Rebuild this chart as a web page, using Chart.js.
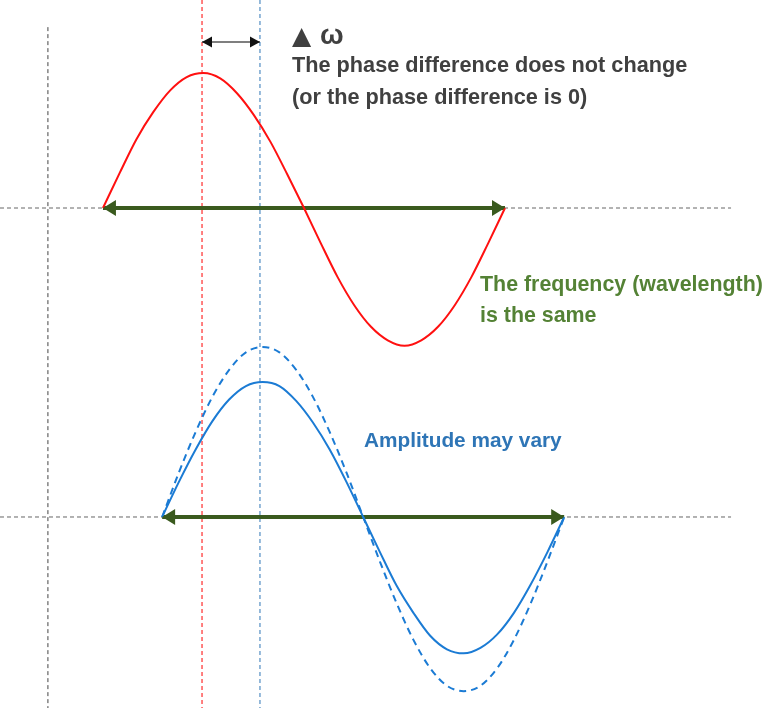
<!DOCTYPE html>
<html><head><meta charset="utf-8">
<script src="https://cdn.jsdelivr.net/npm/chart.js@4.4.1/dist/chart.umd.min.js"></script>
<style>html,body{margin:0;padding:0;background:#fff}#wrap{width:768px;height:708px;position:relative}</style>
</head><body><div id="wrap"><canvas id="c" width="768" height="708"></canvas></div>
<script>
// Phase axis in degrees (the red wave starts at 0°); values in amplitude units.
const redPhase   = [0, 15, 30, 45, 60, 75, 90, 105, 120, 135, 150, 165, 180,
                    195, 210, 225, 240, 255, 270, 285, 300, 315, 330, 345, 360];
const redValues  = [0, 0.26, 0.51, 0.71, 0.87, 0.97, 1.0, 0.96, 0.85, 0.69, 0.49, 0.25, 0,
                    -0.26, -0.51, -0.72, -0.88, -0.98, -1.02, -0.98, -0.88, -0.72, -0.51, -0.26, 0];
const bluePhase  = [53, 68, 83, 98, 113, 128, 143, 158, 173, 188, 203, 218, 233,
                    248, 263, 278, 293, 308, 323, 338, 353, 368, 383, 398, 413];
const blueSolid  = [0, 0.26, 0.50, 0.71, 0.87, 0.97, 1.0, 0.97, 0.86, 0.70, 0.50, 0.26, 0,
                    -0.26, -0.51, -0.71, -0.88, -0.98, -1.01, -0.97, -0.87, -0.71, -0.50, -0.26, 0];
const blueDashed = [0, 0.33, 0.63, 0.89, 1.09, 1.22, 1.26, 1.22, 1.09, 0.89, 0.63, 0.33, 0,
                    -0.33, -0.64, -0.91, -1.12, -1.25, -1.29, -1.25, -1.12, -0.91, -0.64, -0.33, 0];
// Guide lines (phase positions)
const guidePhase = {black: -49.3, red: 88.7, blue: 140.6};
const baselineRange = [-92.2, 562.4];
const redSpan  = [0, 360];
const blueSpan = [53, 413];
const deltaOmegaSpan = [88.7, 140.6];
const deltaOmegaLevel = 1.23;
// Axis ranges
const X_MIN = -92.2, X_MAX = 595.5;
const TOP_MIN = -3.704, TOP_MAX = 1.541;
const BOT_MIN = -1.415, BOT_MAX = 3.830;

const texts = {
  triangle: '▲',
  omega: 'ω',
  phase1: 'The phase difference does not change',
  phase2: '(or the phase difference is 0)',
  freq1: 'The frequency (wavelength)',
  freq2: 'is the same',
  amp: 'Amplitude may vary'
};

const pts = (xs, ys) => xs.map((x, i) => ({x, y: ys[i]}));

const arrowPlugin = {
  id: 'arrowHeads',
  afterDatasetsDraw(chart) {
    const ctx = chart.ctx;
    chart.data.datasets.forEach((ds, i) => {
      if (!ds.arrowHeads) return;
      const meta = chart.getDatasetMeta(i);
      const d = meta.data;
      const {len, half, color} = ds.arrowHeads;
      const heads = [[d[0], d[1]], [d[d.length - 1], d[d.length - 2]]];
      ctx.save();
      ctx.fillStyle = color;
      heads.forEach(([tip, from]) => {
        const ang = Math.atan2(tip.y - from.y, tip.x - from.x);
        const bx = tip.x - Math.cos(ang) * len, by = tip.y - Math.sin(ang) * len;
        const nx = -Math.sin(ang) * half, ny = Math.cos(ang) * half;
        ctx.beginPath();
        ctx.moveTo(tip.x, tip.y);
        ctx.lineTo(bx + nx, by + ny);
        ctx.lineTo(bx - nx, by - ny);
        ctx.closePath();
        ctx.fill();
      });
      ctx.restore();
    });
  }
};

const FONT = '"Liberation Sans", Arial, sans-serif';
const textPlugin = {
  id: 'texts',
  afterDraw(chart) {
    const ctx = chart.ctx;
    ctx.save();
    ctx.textBaseline = 'alphabetic';
    ctx.textAlign = 'left';
    ctx.fillStyle = '#404040';
    ctx.font = 'bold 25px "DejaVu Sans", sans-serif';
    ctx.fillText(texts.triangle, 292, 44);
    ctx.font = 'bold 28px ' + FONT;
    ctx.fillText(texts.omega, 320, 44);
    ctx.font = 'bold 21.7px ' + FONT;
    ctx.fillText(texts.phase1, 292, 72);
    ctx.fillText(texts.phase2, 292, 104);
    ctx.fillStyle = '#548235';
    ctx.font = 'bold 21.4px ' + FONT;
    ctx.fillText(texts.freq1, 480, 291);
    ctx.fillText(texts.freq2, 480, 322);
    ctx.fillStyle = '#2e75b6';
    ctx.font = 'bold 20.8px ' + FONT;
    ctx.fillText(texts.amp, 364, 447);
    ctx.restore();
  }
};

const vline = (x, y0, y1, color) => ({
  data: [{x, y: y0}, {x, y: y1}], showLine: true, borderColor: color,
  borderWidth: 1, borderDash: [4, 3], pointRadius: 0, yAxisID: 'yTop', fill: false
});

const curve = (xs, ys, color, axis, dash) => ({
  data: pts(xs, ys), showLine: true, borderColor: color, borderWidth: 2,
  borderDash: dash || [], pointRadius: 0, cubicInterpolationMode: 'monotone', yAxisID: axis
});

new Chart(document.getElementById('c'), {
  type: 'scatter',
  data: {
    datasets: [
      curve(redPhase, redValues, '#ff1010', 'yTop'),
      curve(bluePhase, blueSolid, '#1b7bd4', 'yBot'),
      curve(bluePhase, blueDashed, '#1b7bd4', 'yBot', [7, 5]),
      {data: pts(redSpan, [0, 0]), showLine: true, borderColor: '#3a5a1e', borderWidth: 4,
       pointRadius: 0, yAxisID: 'yTop', arrowHeads: {len: 13, half: 8, color: '#3a5a1e'}},
      {data: pts(blueSpan, [0, 0]), showLine: true, borderColor: '#3a5a1e', borderWidth: 4,
       pointRadius: 0, yAxisID: 'yBot', arrowHeads: {len: 13, half: 8, color: '#3a5a1e'}},
      {data: pts(deltaOmegaSpan, [deltaOmegaLevel, deltaOmegaLevel]), showLine: true,
       borderColor: '#555555', borderWidth: 1.5, pointRadius: 0, yAxisID: 'yTop',
       arrowHeads: {len: 10, half: 5.5, color: '#111111'}},
      {data: pts(baselineRange, [0, 0]), showLine: true, borderColor: '#666666', borderWidth: 1,
       borderDash: [4, 3], pointRadius: 0, yAxisID: 'yTop'},
      {data: pts(baselineRange, [0, 0]), showLine: true, borderColor: '#666666', borderWidth: 1,
       borderDash: [4, 3], pointRadius: 0, yAxisID: 'yBot'},
      vline(guidePhase.black, 1.34, TOP_MIN, '#444444'),
      vline(guidePhase.red, TOP_MAX, TOP_MIN, '#ff0000'),
      vline(guidePhase.blue, TOP_MAX, TOP_MIN, '#2e75b6')
    ]
  },
  options: {
    responsive: false, animation: false,
    layout: {padding: 0},
    plugins: {legend: {display: false}, tooltip: {enabled: false}, title: {display: false}},
    scales: {
      x: {type: 'linear', min: X_MIN, max: X_MAX, display: false},
      yTop: {type: 'linear', min: TOP_MIN, max: TOP_MAX, display: false},
      yBot: {type: 'linear', min: BOT_MIN, max: BOT_MAX, display: false}
    }
  },
  plugins: [arrowPlugin, textPlugin]
});
</script></body></html>
